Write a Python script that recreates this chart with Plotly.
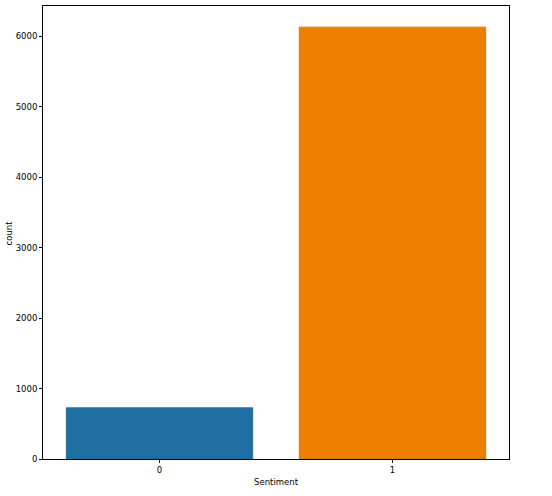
import plotly.graph_objects as go

# sentiment class counts (seaborn-style countplot)
categories = ["0", "1"]
counts = [727, 6130]
bar_colors = ["#1f6fa5", "#ee7f00"]
edge_colors = ["#1a5e8c", "#cc6d00"]
y_ticks = [0, 1000, 2000, 3000, 4000, 5000, 6000]

fig = go.Figure()
fig.add_trace(go.Bar(
    x=[0, 1], y=counts, width=0.8,
    marker=dict(color=bar_colors, line=dict(color=edge_colors, width=0.8)),
    showlegend=False,
))

axis_style = dict(
    showline=True, mirror=True, linecolor="black", linewidth=1,
    ticks="outside", ticklen=3, tickcolor="black", showgrid=False, zeroline=False,
    tickfont=dict(family="DejaVu Sans", size=8.5, color="black"),
    automargin=False,
)
fig.update_xaxes(
    range=[-0.5, 1.5], tickvals=[0, 1], ticktext=categories,
    title=dict(text="Sentiment", font=dict(family="DejaVu Sans", size=8.5, color="black"), standoff=4),
    **axis_style,
)
fig.update_yaxes(range=[0, 6430], tickvals=y_ticks, **axis_style)

# y title as an annotation so it can sit a bit further from the edge
fig.add_annotation(
    text="count", textangle=-90, xref="paper", yref="paper",
    x=-0.073, y=0.5, xanchor="center", yanchor="middle", showarrow=False,
    font=dict(family="DejaVu Sans", size=8.5, color="black"),
)
fig.update_layout(
    width=552, height=496,
    margin=dict(l=43, r=43, t=6, b=37),
    plot_bgcolor="white", paper_bgcolor="white",
    font=dict(family="DejaVu Sans", size=8.5, color="black"),
)
# drop the browser's default body margin so the figure sits at the window corner
fig.write_html("out.html", config={"displayModeBar": False},
               post_script="document.body.style.margin='0';")
